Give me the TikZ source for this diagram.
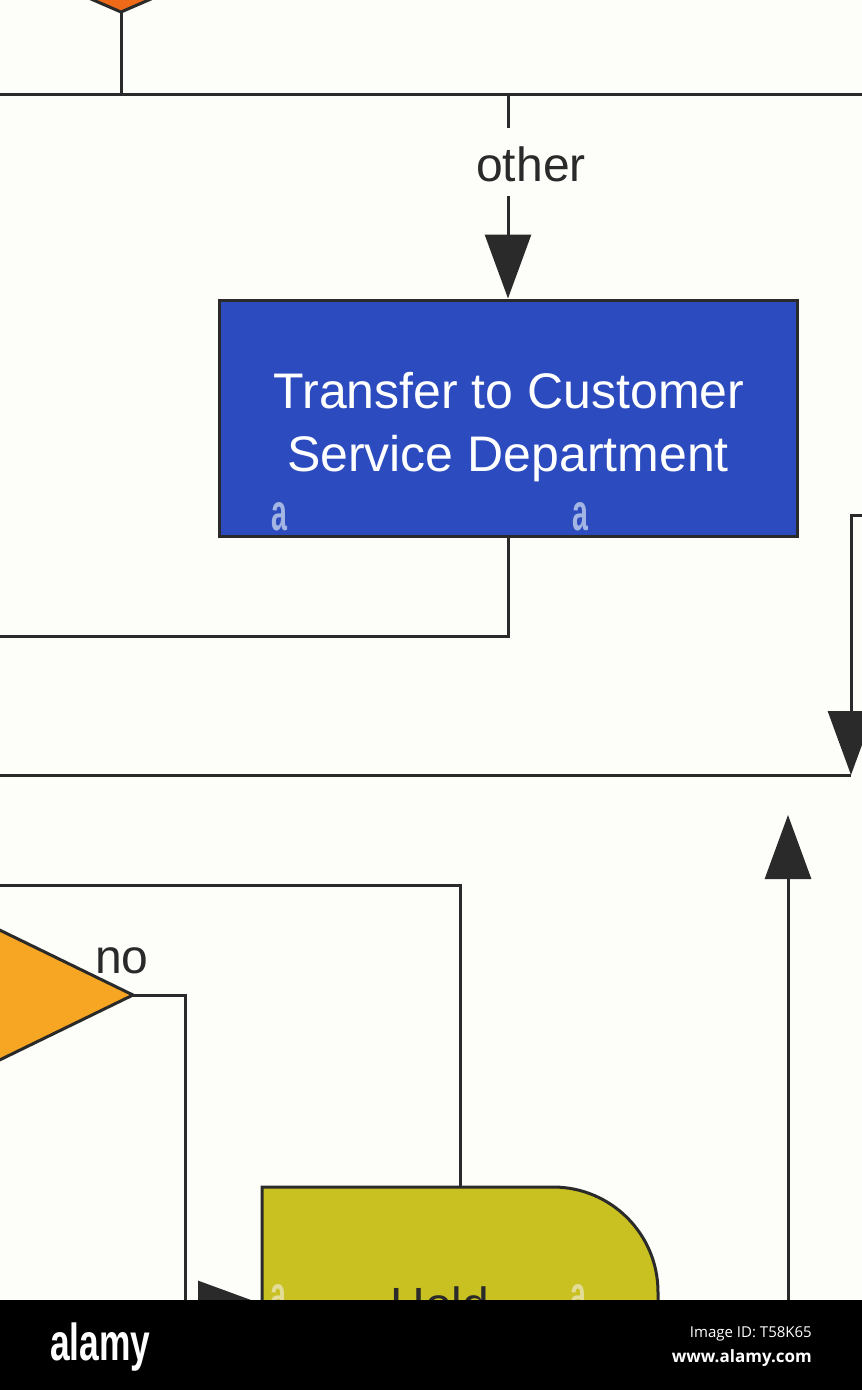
\documentclass[tikz,border=0pt]{standalone}
\usepackage{fontspec}
\setmainfont{Liberation Sans}
\newfontfamily\opensans{Open Sans}
\usetikzlibrary{arrows.meta}
\definecolor{ink}{HTML}{2A2A2A}
\definecolor{bluebox}{HTML}{2C4BBE}
\definecolor{deeporange}{HTML}{EE6A18}
\definecolor{lightorange}{HTML}{F6A623}
\definecolor{olivefill}{HTML}{C9C021}
\definecolor{paper}{HTML}{FDFDF9}
\definecolor{wmark}{HTML}{A3B5E2}
\definecolor{wmarkY}{HTML}{E2DC96}
\newcommand{\wmarka}{\scalebox{0.55}[1]{\fontsize{52}{52}\selectfont\bfseries a}}
\begin{document}
\begin{tikzpicture}[x=1pt,y=-1pt,
  line/.style={draw=ink,line width=3pt},
  tip/.style={-{Triangle[length=64pt,width=46pt]}},
  lbl/.style={font=\fontsize{48}{48}\selectfont,text=ink,inner sep=0pt},
  boxtxt/.style={font=\fontsize{50}{50}\selectfont,text=white,inner sep=0pt},
  wm/.style={inner sep=0pt,anchor=base}]
\useasboundingbox (0,0) rectangle (862,1390);
\clip (0,0) rectangle (862,1390);
\fill[paper] (0,0) rectangle (862,1390);

% top decision (only its lower tip is visible)
\draw[line,fill=deeporange,line join=miter] (121,12) -- (-29,-53) -- (121,-118) -- (271,-53) -- cycle;
\coordinate (topdia) at (121,12);
\coordinate (busL) at (0,94);
\coordinate (busR) at (862,94);
\coordinate (busJ) at (121,94);
\coordinate (otherA) at (508,94);
\coordinate (otherB) at (508,128);
\coordinate (otherC) at (508,196);
\draw[line] (topdia) -- (busJ);
\draw[line] (busL) -- (busR);

% transfer box
\node[draw=ink,line width=3pt,fill=bluebox,minimum width=578pt,minimum height=236pt,inner sep=0pt] (transfer) at (508,418) {};
\node[boxtxt,anchor=base] (t1) at (509,408) {Transfer to Customer};
\node[boxtxt,anchor=base] (t2) at (508,471) {Service Department};
\node[wm,text=wmark] (wa1) at (279,530) {\wmarka};
\node[wm,text=wmark] (wa2) at (580,530) {\wmarka};

\draw[line] (otherA) -- (otherB);
\node[lbl,anchor=base] (otherlbl) at (531,181) {other};
\draw[line,tip] (otherC) -- (transfer.north);

\coordinate (leftret) at (0,636);
\draw[line] (transfer.south) |- (leftret);

% right side merge
\coordinate (rA) at (862,515);
\coordinate (rB) at (851,515);
\coordinate (rC) at (851,775);
\coordinate (mergeL) at (0,775);
\draw[line,tip] (rA) -- (rB) -- (rC);
\draw[line] (mergeL) -- (rC);

% up arrow
\coordinate (upA) at (788,1310);
\coordinate (upB) at (788,815);
\draw[line,tip] (upA) -- (upB);

% loop line to hold
\coordinate (loopL) at (0,885);
\coordinate (holdTop) at (460,1187);
\draw[line] (loopL) -| (holdTop);

% middle decision
\draw[line,fill=lightorange,line join=miter] (133,995) -- (-140,862) -- (-413,995) -- (-140,1128) -- cycle;
\coordinate (diaR) at (133,995);
\coordinate (noDown) at (185,1310);
\node[lbl,anchor=base] (nolbl) at (122,973) {no};
\draw[line] (diaR) -| (noDown);

% hold (delay shape)
\draw[line,fill=olivefill] (262,1420) -- (262,1187) -- (553,1187) arc[start angle=-90,end angle=0,radius=105] -- (658,1420);
\node[lbl,anchor=base] (holdtxt) at (440,1321) {Hold};
\node[wm,text=wmarkY] (wa3) at (278,1312) {\wmarka};
\node[wm,text=wmarkY] (wa4) at (578,1312) {\wmarka};

\coordinate (inA) at (185,1304);
\coordinate (holdW) at (262,1304);
\draw[line,tip] (inA) -- (holdW);

% stock photo banner
\fill[black] (0,1300) rectangle (862,1390);
\node[anchor=base west,inner sep=0pt,text=white] (logo) at (50,1360)
  {\scalebox{0.68}[1]{\fontsize{52}{52}\selectfont\bfseries alamy}};
\node[anchor=base east,inner sep=0pt,text=white,font=\opensans\fontsize{15}{15}\selectfont] (imgid) at (812,1337) {Image ID: T58K65};
\node[anchor=base east,inner sep=0pt,text=white,font=\opensans\bfseries\fontsize{17}{17}\selectfont] (www) at (812,1362) {www.alamy.com};
\end{tikzpicture}
\end{document}
